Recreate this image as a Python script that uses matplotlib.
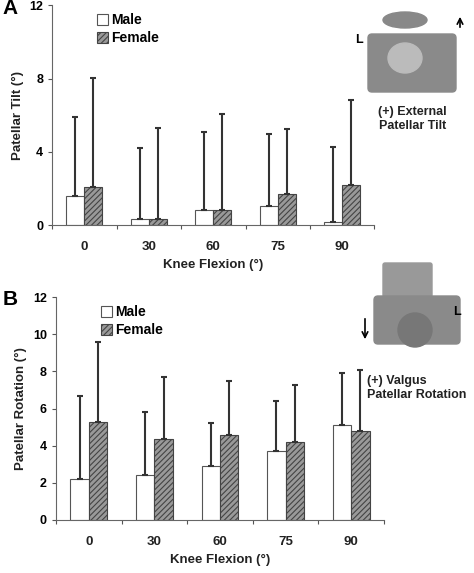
import matplotlib
matplotlib.use("Agg")
import matplotlib.pyplot as plt
import numpy as np
from matplotlib.patches import Ellipse, FancyBboxPatch

angles = ["0", "30", "60", "75", "90"]
tilt_male = [1.6, 0.35, 0.85, 1.05, 0.2]
tilt_male_sd = [4.3, 3.85, 4.25, 3.9, 4.05]
tilt_female = [2.1, 0.35, 0.85, 1.7, 2.2]
tilt_female_sd = [5.95, 4.95, 5.2, 3.55, 4.65]
rot_male = [2.2, 2.4, 2.9, 3.7, 5.1]
rot_male_sd = [4.5, 3.4, 2.3, 2.7, 2.8]
rot_female = [5.3, 4.35, 4.55, 4.2, 4.8]
rot_female_sd = [4.3, 3.35, 2.95, 3.05, 3.3]

plt.rcParams['font.family'] = ['Liberation Sans', 'DejaVu Sans']
plt.rcParams['hatch.color'] = '#333333'
plt.rcParams['hatch.linewidth'] = 0.8

fig = plt.figure(figsize=(4.74, 5.73), dpi=100)
axA = fig.add_axes([0.11, 0.607, 0.68, 0.384])
axB = fig.add_axes([0.118, 0.0925, 0.692, 0.389])

def panel(ax, m, msd, f, fsd, ylabel, ticks):
    x = np.arange(len(angles))
    w = 0.28
    ekw = dict(ecolor='#333333', elinewidth=1.5, capsize=2, capthick=1.5)
    ax.bar(x - w/2, m, w, color='white', edgecolor='#555555', lw=0.8, label='Male',
           yerr=[np.zeros(5), msd], error_kw=ekw)
    ax.bar(x + w/2, f, w, color='#999999', edgecolor='#444444', hatch='//////', lw=0.8, label='Female',
           yerr=[np.zeros(5), fsd], error_kw=ekw)
    ax.set_xlim(-0.5, 4.5)
    ax.set_ylim(0, 12)
    ax.set_yticks(ticks)
    ax.set_xticks(np.arange(-0.5, 5, 1))
    ax.set_xticklabels([])
    ax.tick_params(axis='x', length=3, color='#555555')
    for i, a in enumerate(angles):
        ax.text(i, -1.2, a, ha='center', va='center', fontsize=9.5, fontweight='bold', color='#222222')
    ax.tick_params(axis='y', labelsize=9, color='#555555', length=3)
    for t in ax.get_yticklabels():
        t.set_fontweight('bold')
    for s in ['top', 'right']:
        ax.spines[s].set_visible(False)
    for s in ['left', 'bottom']:
        ax.spines[s].set_color('#666666')
    ax.set_ylabel(ylabel, fontsize=9.5, fontweight='bold', color='#222222')
    ax.set_xlabel('Knee Flexion (°)', fontsize=9.5, fontweight='bold', color='#222222', labelpad=18)
    ax.legend(loc='upper left', bbox_to_anchor=(0.1, 1.02), frameon=False,
              prop={'weight': 'bold', 'size': 10}, handlelength=0.8, handleheight=0.8,
              handletextpad=0.2, labelspacing=0.3)

panel(axA, tilt_male, tilt_male_sd, tilt_female, tilt_female_sd, 'Patellar Tilt (°)', [0, 4, 8, 12])
panel(axB, rot_male, rot_male_sd, rot_female, rot_female_sd, 'Patellar Rotation (°)', [0, 2, 4, 6, 8, 10, 12])

fig.text(0.005, 0.975, 'A', fontsize=15, fontweight='bold')
fig.text(0.005, 0.467, 'B', fontsize=15, fontweight='bold')
fig.text(0.87, 0.815, '(+) External\nPatellar Tilt', ha='center', va='top', fontsize=9, fontweight='bold', color='#222222')
fig.text(0.775, 0.345, '(+) Valgus\nPatellar Rotation', ha='left', va='top', fontsize=9, fontweight='bold', color='#222222')
fig.text(0.75, 0.925, 'L', fontsize=9, fontweight='bold')
fig.text(0.955, 0.45, 'L', fontsize=9, fontweight='bold')

# simple knee illustrations
ov = fig.add_axes([0, 0, 1, 1], facecolor='none')
ov.set_xlim(0, 474); ov.set_ylim(573, 0); ov.axis('off')
ov.add_patch(Ellipse((405, 20), 44, 16, color='#888888'))
ov.add_patch(FancyBboxPatch((372, 38), 80, 50, boxstyle='round,pad=4', color='#8a8a8a'))
ov.add_patch(Ellipse((405, 58), 34, 30, color='#bbbbbb'))
ov.annotate('', xy=(460, 14), xytext=(460, 30), arrowprops=dict(arrowstyle='->', lw=1.2))
ov.add_patch(FancyBboxPatch((385, 265), 45, 30, boxstyle='round,pad=2', color='#999999'))
ov.add_patch(FancyBboxPatch((378, 300), 78, 40, boxstyle='round,pad=4', color='#8a8a8a'))
ov.add_patch(Ellipse((415, 330), 34, 34, color='#777777'))
ov.annotate('', xy=(365, 342), xytext=(365, 316), arrowprops=dict(arrowstyle='->', lw=1.2))

fig.savefig('out.png', dpi=100)
